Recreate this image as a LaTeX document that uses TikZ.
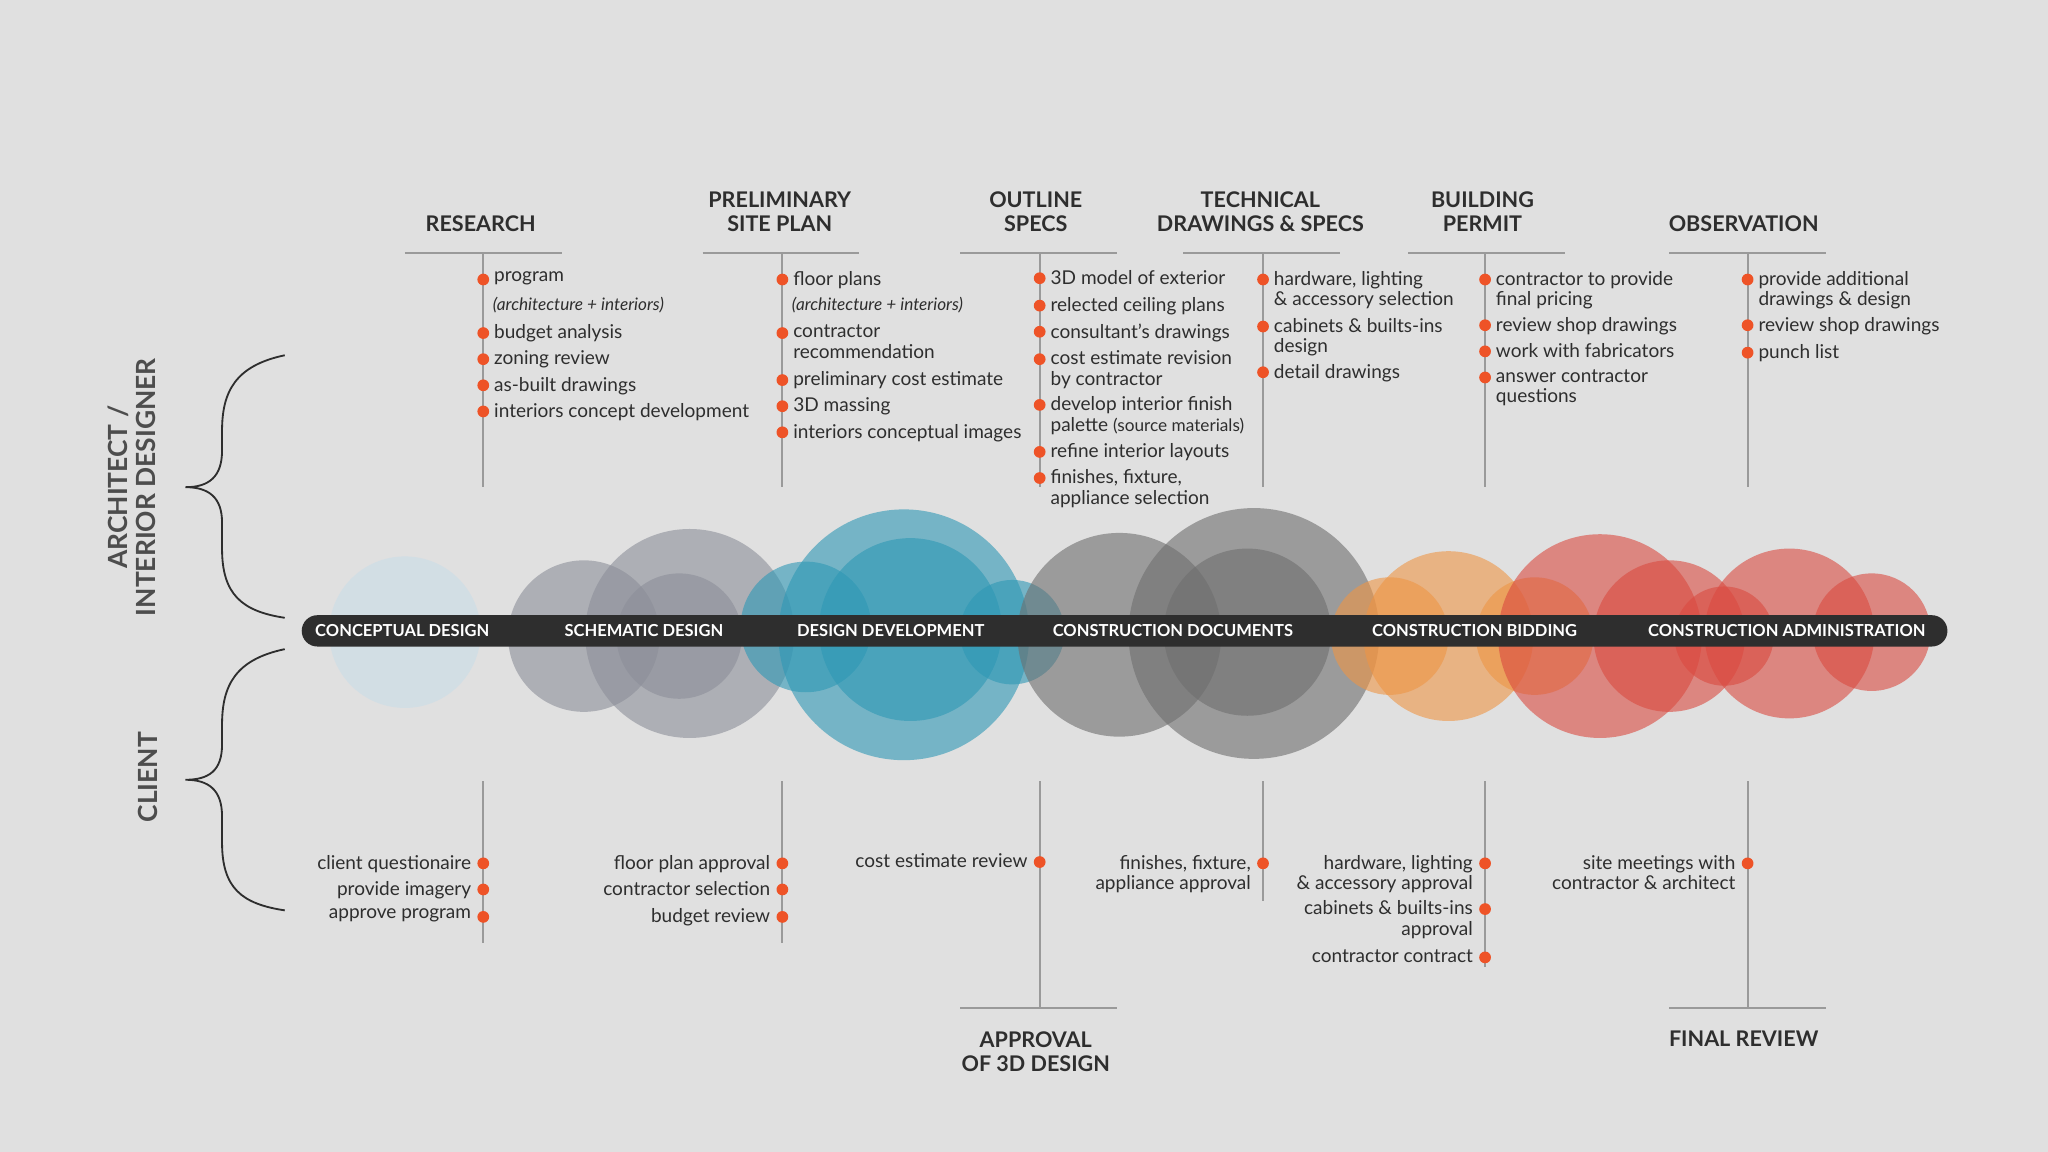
\documentclass[tikz,border=0pt]{standalone}
\usepackage{fontspec}
\setmainfont{Lato}
\newlength\pu \setlength\pu{0.02cm}
\definecolor{bg}{HTML}{E0E0E0}
\definecolor{txt}{HTML}{2E2E2E}
\definecolor{ln}{HTML}{9A9A9A}
\definecolor{bul}{HTML}{EE5327}
\definecolor{cblue}{HTML}{C9DDE8}
\definecolor{cgray}{HTML}{8C8F99}
\definecolor{cteal}{HTML}{2E98B5}
\definecolor{cdark}{HTML}{6E6E6E}
\definecolor{corange}{HTML}{EE9545}
\definecolor{cred}{HTML}{DA4A40}
\tikzset{
  item/.style={font=\fontsize{8.3}{8.9}\selectfont, text=txt, inner sep=0pt, align=left},
  itemL/.style={item, anchor=north west},
  itemR/.style={item, anchor=north east, align=right},
  head/.style={font=\fontsize{9.4}{10.4}\selectfont\bfseries, text=txt, inner sep=0pt, align=center},
  phase/.style={font=\fontsize{7.2}{7.5}\selectfont\bfseries, text=white, inner sep=0pt},
  side/.style={font=\fontsize{11.5}{12.5}\selectfont\bfseries, text=txt!85!white, inner sep=0pt, align=center, rotate=90},
  vline/.style={draw=ln, line width=0.8pt},
  dot/.style={circle, fill=bul, inner sep=0pt, minimum size=9\pu},
  bub/.style={opacity=0.6},
}
\newcommand{\bt}[4]{% name, x, y, text (left)
  \node[dot] (#1d) at (#2,#3) {};
  \node[itemL] (#1) at ([xshift=8\pu,yshift=6.6\pu]#1d.center) {#4};}
\newcommand{\bb}[4]{% right side
  \node[dot] (#1d) at (#2,#3) {};
  \node[itemR] (#1) at ([xshift=-9\pu,yshift=6.6\pu]#1d.center) {#4};}
\begin{document}
\begin{tikzpicture}[x=0.02cm,y=-0.02cm]
\fill[bg] (0,0) rectangle (1568,882);
\useasboundingbox (0,0) rectangle (1568,882);
% bubbles
\fill[cblue,bub] (310,484) circle[radius=58\pu];
\fill[cgray,bub] (447,487) circle[radius=58\pu];
\fill[cgray,bub] (528,485) circle[radius=80\pu];
\fill[cgray,bub] (520,487) circle[radius=48\pu];
\fill[cteal,bub] (617,480) circle[radius=50\pu];
\fill[cteal,bub] (692,486) circle[radius=96\pu];
\fill[cteal,bub] (697,482) circle[radius=70\pu];
\fill[cteal,bub] (775,484) circle[radius=40\pu];
\fill[cdark,bub] (857,486) circle[radius=78\pu];
\fill[cdark,bub] (960,485) circle[radius=96\pu];
\fill[cdark,bub] (955,484) circle[radius=64\pu];
\fill[corange,bub] (1064,487) circle[radius=45\pu];
\fill[corange,bub] (1109,487) circle[radius=65\pu];
\fill[corange,bub] (1175,487) circle[radius=45\pu];
\fill[cred,bub] (1225,487) circle[radius=78\pu];
\fill[cred,bub] (1278,487) circle[radius=58\pu];
\fill[cred,bub] (1320,487) circle[radius=38\pu];
\fill[cred,bub] (1370,485) circle[radius=65\pu];
\fill[cred,bub] (1433,484) circle[radius=45\pu];
% bar
\node[fill=black!82, rounded corners=12\pu, minimum width=1260\pu, minimum height=24\pu, inner sep=0pt] (bar) at (861,483) {};
\node[phase] (p1) at (308,483) {CONCEPTUAL DESIGN};
\node[phase] (p2) at (493,483) {SCHEMATIC DESIGN};
\node[phase] (p3) at (682,483) {DESIGN DEVELOPMENT};
\node[phase] (p4) at (898,483) {CONSTRUCTION DOCUMENTS};
\node[phase] (p5) at (1129,483) {CONSTRUCTION BIDDING};
\node[phase] (p6) at (1368,483) {CONSTRUCTION ADMINISTRATION};
% headers
\node[head,anchor=base] (h1) at (368,177) {RESEARCH};
\node[head,anchor=base] (h2) at (597,177) {PRELIMINARY\\SITE PLAN};
\node[head,anchor=base] (h3) at (793,177) {OUTLINE\\SPECS};
\node[head,anchor=base] (h4) at (965,177) {TECHNICAL\\DRAWINGS \& SPECS};
\node[head,anchor=base] (h5) at (1135,177) {BUILDING\\PERMIT};
\node[head,anchor=base] (h6) at (1335,177) {OBSERVATION};
\foreach \a/\b in {310/430,538/658,735/855,906/1026,1078/1198,1278/1398}
  \draw[vline] (\a,194) -- (\b,194);
\foreach \x in {370,599,796,967,1137,1338}
  \draw[vline] (\x,194) -- (\x,373);
% top items
\bt{a1}{370}{214}{program}
\node[itemL,font=\fontsize{7.5}{8}\selectfont\itshape] (a1i) at (377,227) {(architecture + interiors)};
\bt{a2}{370}{255}{budget analysis}
\bt{a3}{370}{275}{zoning review}
\bt{a4}{370}{295}{as-built drawings}
\bt{a5}{370}{315}{interiors concept development}
\bt{b1}{599}{214}{floor plans}
\node[itemL,font=\fontsize{7.5}{8}\selectfont\itshape] (b1i) at (606,227) {(architecture + interiors)};
\bt{b2}{599}{255}{contractor\\ recommendation}
\bt{b3}{599}{291}{preliminary cost estimate}
\bt{b4}{599}{311}{3D massing}
\bt{b5}{599}{331}{interiors conceptual images}
\bt{c1}{796}{213}{3D model of exterior}
\bt{c2}{796}{234}{relected ceiling plans}
\bt{c3}{796}{254}{consultant's drawings}
\bt{c4}{796}{275}{cost estimate revision\\ by contractor}
\bt{c5}{796}{310}{develop interior finish\\palette {\fontsize{7.5}{8}\selectfont(source materials)}}
\bt{c6}{796}{346}{refine interior layouts}
\bt{c7}{796}{366}{finishes, fixture,\\ appliance selection}
\bt{d1}{967}{214}{hardware, lighting\\\& accessory selection}
\bt{d2}{967}{250}{cabinets \& builts-ins\\design}
\bt{d3}{967}{285}{detail drawings}
\bt{e1}{1137}{214}{contractor to provide\\ final pricing}
\bt{e2}{1137}{249}{review shop drawings}
\bt{e3}{1137}{269}{work with fabricators}
\bt{e4}{1137}{289}{answer contractor\\ questions}
\bt{f1}{1338}{214}{provide additional\\ drawings \& design}
\bt{f2}{1338}{249}{review shop drawings}
\bt{f3}{1338}{270}{punch list}
% bottom lines
\draw[vline] (370,598) -- (370,722);
\draw[vline] (599,598) -- (599,722);
\draw[vline] (796,598) -- (796,772);
\draw[vline] (967,598) -- (967,690);
\draw[vline] (1137,598) -- (1137,740);
\draw[vline] (1338,598) -- (1338,772);
\draw[vline] (735,772) -- (855,772);
\draw[vline] (1278,772) -- (1398,772);
\node[head,anchor=base] (g1) at (793,820) {APPROVAL\\OF 3D DESIGN};
\node[head,anchor=base] (g2) at (1335,801) {FINAL REVIEW};
% bottom items
\bb{k1}{370}{661}{client questionaire}
\bb{k2}{370}{681}{provide imagery}
\bb{k3}{370}{702}{approve program}
\bb{l1}{599}{661}{floor plan approval}
\bb{l2}{599}{681}{contractor selection}
\bb{l3}{599}{702}{budget review}
\bb{m1}{796}{660}{cost estimate review}
\bb{n1}{967}{661}{finishes, fixture,\\appliance approval}
\bb{o1}{1137}{661}{hardware, lighting\\\& accessory approval}
\bb{o2}{1137}{696}{cabinets \& builts-ins\\approval}
\bb{o3}{1137}{733}{contractor contract}
\bb{q1}{1338}{661}{site meetings with\\contractor \& architect}
% braces
\draw[txt, line width=0.8pt] (218,272) .. controls (180,280) and (170,300) .. (170,330) -- (170,345) .. controls (170,365) and (160,373) .. (142,373) .. controls (160,373) and (170,381) .. (170,400) -- (170,420) .. controls (170,455) and (185,468) .. (218,473);
\draw[txt, line width=0.8pt] (218,497) .. controls (180,505) and (170,525) .. (170,555) -- (170,570) .. controls (170,590) and (160,597) .. (142,597) .. controls (160,597) and (170,605) .. (170,625) -- (170,645) .. controls (170,680) and (185,692) .. (218,697);
\node[side] (s1) at (101,373) {ARCHITECT /\\INTERIOR DESIGNER};
\node[side] (s2) at (113,595) {CLIENT};
\end{tikzpicture}
\end{document}
